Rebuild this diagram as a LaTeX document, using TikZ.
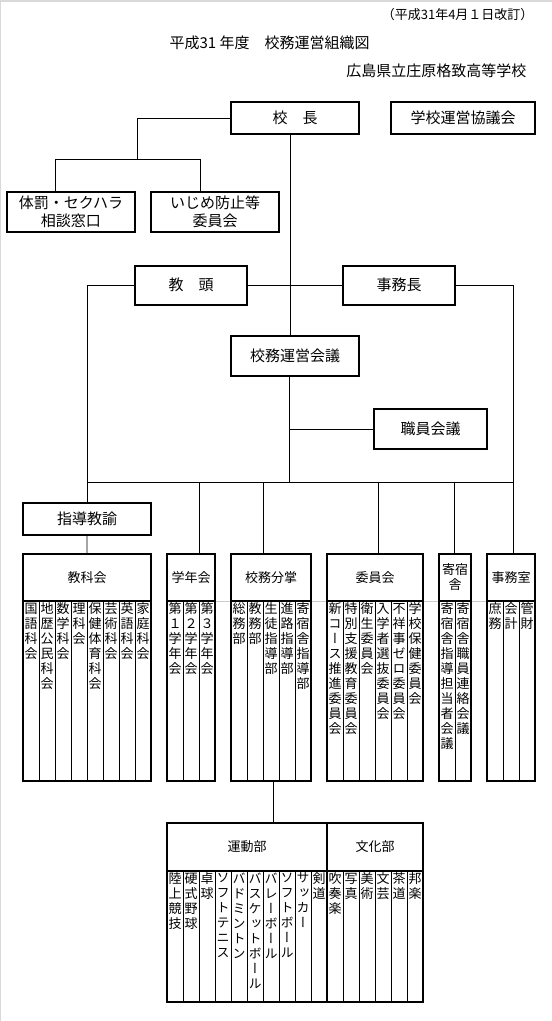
\documentclass[tikz,border=0pt]{standalone}
\usepackage{fontspec}
\setmainfont{Noto Sans CJK JP}
\newfontfamily\tatefont[RawFeature=+vert]{Noto Sans CJK JP}
\usetikzlibrary{positioning,calc}
% vertical (tate) stacking of one column of text
\makeatletter
\newcommand\tate[1]{\edef\tate@list{#1}\expandafter\tate@stack\expandafter{\tate@list}}
\newcommand\tate@stack[1]{\vtop{\tatefont\fontsize{13bp}{15bp}\selectfont
	\baselineskip=15bp\lineskiplimit=-\maxdimen
	\@tfor\tate@ch:=#1\do{\hbox to 13bp{\hss\tate@ch\hss}}}}
\makeatother
\tikzset{
	box/.style={draw,line width=2bp,outer sep=0pt,inner sep=0pt,align=center,
		font=\fontsize{15bp}{18bp}\selectfont},
	head/.style={draw,line width=2bp,outer sep=0pt,inner sep=0pt,align=center,
		minimum height=47bp,font=\fontsize{13bp}{15bp}\selectfont},
	body/.style={draw,line width=2bp,outer sep=0pt,inner sep=0pt,anchor=north},
	col/.style={inner sep=0pt,outer sep=0pt,anchor=north},
	sep/.style={line width=0.8bp},
	link/.style={line width=0.9bp},
}

\begin{document}
\begin{tikzpicture}[x=1bp,y=-1bp]
	\useasboundingbox (0,0) rectangle (552,1021);
	\draw[black!15,line width=1.5bp] (0.75,1021) -- (0.75,0.75) -- (552,0.75);
	\draw[black!20,line width=0.8bp] (215,601) -- (487,601);
	% titles
	\node[anchor=east,font=\fontsize{13bp}{15bp}\selectfont] (rev) at (537,15) {（平成31年4月１日改訂）};
	\node[anchor=west,font=\fontsize{15bp}{18bp}\selectfont] (title) at (166,43) {平成31 年度　校務運営組織図};
	\node[anchor=east,font=\fontsize{15bp}{18bp}\selectfont] (school) at (530,71) {広島県立庄原格致高等学校};
	% upper part
	\node[box,minimum width=128bp,minimum height=32bp] (kocho) at (295,118) {校　長};
	\node[box,minimum width=144bp,minimum height=32bp] (kyogikai) at (463,118) {学校運営協議会};
	\node[box,minimum width=128bp,minimum height=40bp] (taibatsu) at (71,212) {体罰・セクハラ\\相談窓口};
	\node[box,minimum width=128bp,minimum height=40bp] (ijime) at (215,212) {いじめ防止等\\委員会};
	\node[box,minimum width=112bp,minimum height=39bp] (kyoto) at (191,285) {教　頭};
	\node[box,minimum width=112bp,minimum height=39bp] (jimucho) at (399,285) {事務長};
	\node[box,minimum width=128bp,minimum height=40bp] (unei) at (295,356) {校務運営会議};
	\node[box,minimum width=113bp,minimum height=40bp] (shokuin) at (430.5,429) {職員会議};
	\node[box,minimum width=128bp,minimum height=32bp] (shido) at (87,519) {指導教諭};
	% lower boxes
	\foreach \n/\x/\c/\h in {kyoka/23/8/教科会,gakunen/167/3/学年会,bunsho/231/5/校務分掌,
		iin/327/6/委員会,ryo/439/2/{寄宿\\舎},jimu/487/3/事務室}{
		\node[head,minimum width=\c*16bp,anchor=north west] (\n) at (\x,554) {\h};
		\node[body,minimum width=\c*16bp,minimum height=180bp] (\n-b) at (\n.south) {};
		\foreach \i in {2,...,\c}
			\draw[sep] ([xshift=(\i-1)*16bp]\n-b.north west) -- ([xshift=(\i-1)*16bp]\n-b.south west);
	}
	\foreach \t [count=\i] in {国語科会,地歴公民科会,数学科会,理科会,保健体育科会,芸術科会,英語科会,家庭科会}
		\node[col] (kyoka-\i) at ([xshift=(\i-0.5)*16bp,yshift=-2bp]kyoka-b.north west) {\tate{\t}};
	\foreach \t [count=\i] in {第１学年会,第２学年会,第３学年会}
		\node[col] (gakunen-\i) at ([xshift=(\i-0.5)*16bp,yshift=-2bp]gakunen-b.north west) {\tate{\t}};
	\foreach \t [count=\i] in {総務部,教務部,生徒指導部,進路指導部,寄宿舎指導部}
		\node[col] (bunsho-\i) at ([xshift=(\i-0.5)*16bp,yshift=-2bp]bunsho-b.north west) {\tate{\t}};
	\foreach \t [count=\i] in {新コース推進委員会,特別支援教育委員会,衛生委員会,入学者選抜委員会,不祥事ゼロ委員会,学校保健委員会}
		\node[col] (iin-\i) at ([xshift=(\i-0.5)*16bp,yshift=-2bp]iin-b.north west) {\tate{\t}};
	\foreach \t [count=\i] in {寄宿舎指導担当者会議,寄宿舎職員連絡会議}
		\node[col] (ryo-\i) at ([xshift=(\i-0.5)*16bp,yshift=-2bp]ryo-b.north west) {\tate{\t}};
	\foreach \t [count=\i] in {庶務,会計,管財}
		\node[col] (jimu-\i) at ([xshift=(\i-0.5)*16bp,yshift=-2bp]jimu-b.north west) {\tate{\t}};
	% clubs
	\node[head,minimum width=160bp,minimum height=48bp,anchor=north west] (undo) at (167,823) {運動部};
	\node[head,minimum width=96bp,minimum height=48bp,anchor=north west] (bunka) at (undo.north east) {文化部};
	\node[body,minimum width=160bp,minimum height=131bp] (undo-b) at (undo.south) {};
	\node[body,minimum width=96bp,minimum height=131bp] (bunka-b) at (bunka.south) {};
	\foreach \i in {1,...,9}
		\draw[sep] ([xshift=\i*16bp]undo-b.north west) -- ([xshift=\i*16bp]undo-b.south west);
	\foreach \i in {1,...,5}
		\draw[sep] ([xshift=\i*16bp]bunka-b.north west) -- ([xshift=\i*16bp]bunka-b.south west);
	\foreach \t [count=\i] in {陸上競技,硬式野球,卓球,ソフトテニス,バドミントン,バスケットボール,バレーボール,ソフトボール,サッカー,剣道}
		\node[col] (undo-\i) at ([xshift=(\i-0.5)*16bp,yshift=-2bp]undo-b.north west) {\tate{\t}};
	\foreach \t [count=\i] in {吹奏楽,写真,美術,文芸,茶道,邦楽}
		\node[col] (bunka-\i) at ([xshift=(\i-0.5)*16bp,yshift=-2bp]bunka-b.north west) {\tate{\t}};
	% connectors
	\coordinate (kl) at (137,159);
	\coordinate (tl) at (55,159);
	\coordinate (ir) at (200,159);
	\coordinate (spine) at (290,285);
	\coordinate (ll) at (87,285);
	\coordinate (rr) at (513,285);
	\coordinate (bl) at (87,482);
	\coordinate (br) at (513,482);
	\coordinate (mid) at (289,482);
	\coordinate (d1) at (199,482);
	\coordinate (d2) at (263,482);
	\coordinate (d3) at (378,482);
	\coordinate (d4) at (454,482);
	\coordinate (d5) at (273,823);
	\draw[link] (kocho.west) -| (kl);
	\draw[link] (taibatsu.north -| tl) |- (ir) -- (ijime.north -| ir);
	\draw[link] (kocho.south -| spine) -- (unei.north -| spine);
	\draw[link] (ll) -- (kyoto.west);
	\draw[link] (kyoto.east) -- (jimucho.west);
	\draw[link] (jimucho.east) -- (rr);
	\draw[link] (ll) -- (shido.north);
	\draw[link] (shido.south) -- (kyoka.north);
	\draw[link] (rr) -- (jimu.north -| rr);
	\draw[link] (bl) -- (br);
	\draw[link] (unei.south -| mid) -- (mid);
	\draw[link] (shokuin.west -| mid) -- (shokuin.west);
	\foreach \n/\d in {gakunen/d1,bunsho/d2,iin/d3,ryo/d4}
		\draw[link] (\d) -- (\n.north -| \d);
	\draw[link] (bunsho-b.south -| d5) -- (d5);
\end{tikzpicture}
\end{document}
